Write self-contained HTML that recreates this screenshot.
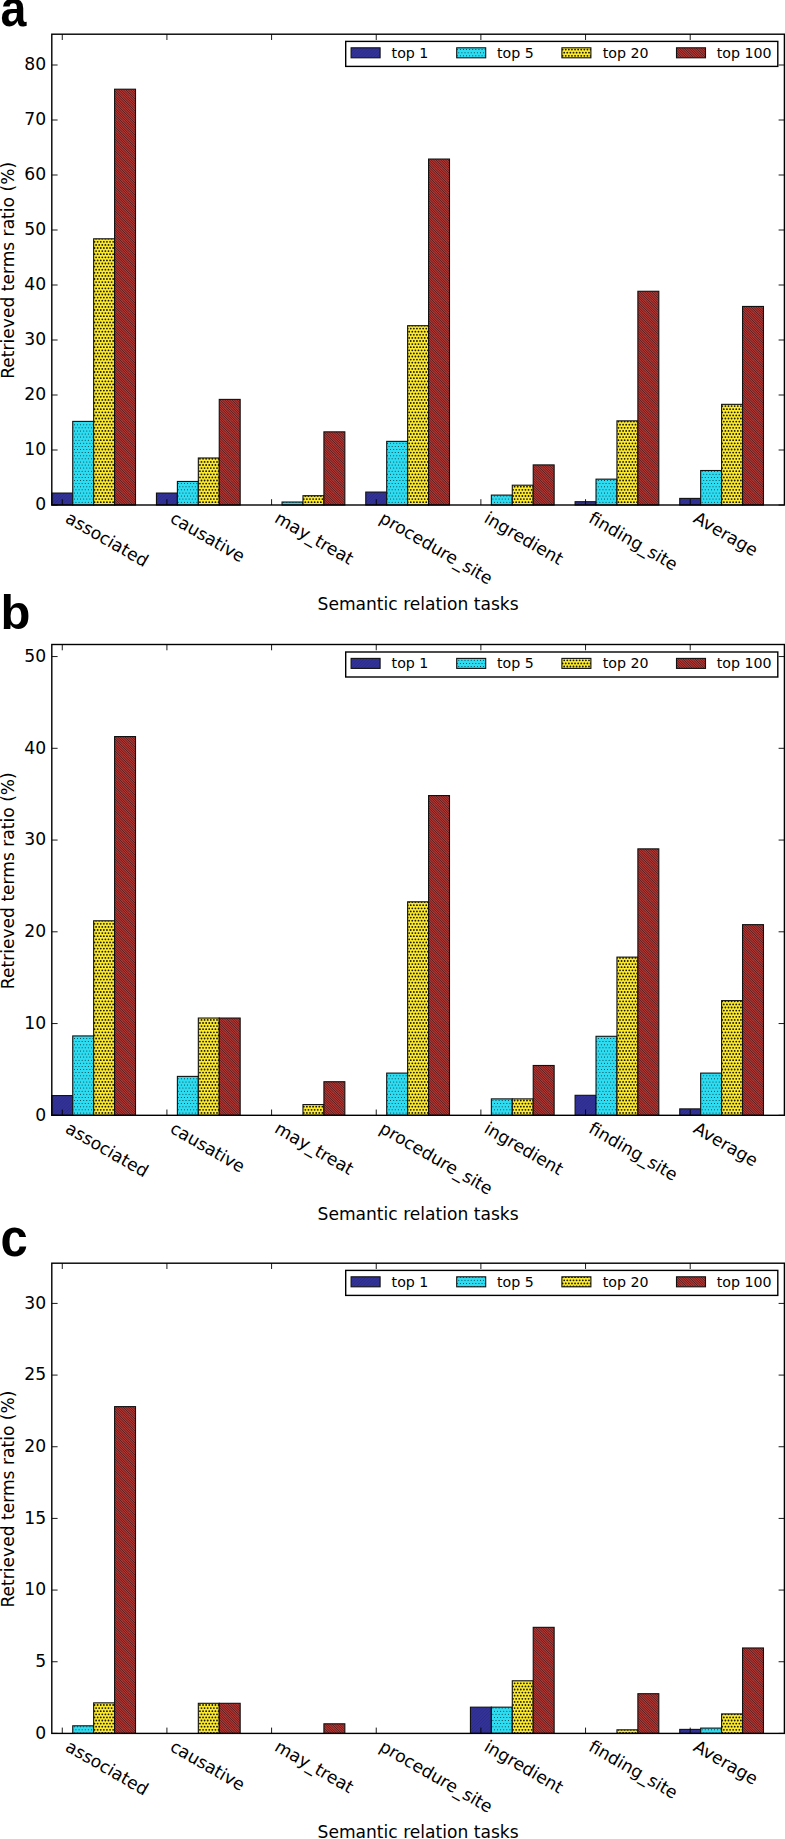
<!DOCTYPE html>
<html><head><meta charset="utf-8"><title>Semantic relation tasks</title>
<style>html,body{margin:0;padding:0;background:#fff}svg{display:block}text{font-family:"DejaVu Sans","Liberation Sans",sans-serif;fill:#000}.pl{font-family:"Liberation Sans",Arial,sans-serif;font-weight:bold;font-size:49px}</style></head><body>
<svg width="785" height="1839" viewBox="0 0 785 1839">
<defs>
<pattern id="h0" width="31.0" height="31.0" patternUnits="userSpaceOnUse"><rect width="31.0" height="31.0" fill="#323299"/><path d="M-34.10,31.0l31.0,-31.0M-31.00,31.0l31.0,-31.0M-27.90,31.0l31.0,-31.0M-24.80,31.0l31.0,-31.0M-21.70,31.0l31.0,-31.0M-18.60,31.0l31.0,-31.0M-15.50,31.0l31.0,-31.0M-12.40,31.0l31.0,-31.0M-9.30,31.0l31.0,-31.0M-6.20,31.0l31.0,-31.0M-3.10,31.0l31.0,-31.0M0.00,31.0l31.0,-31.0M3.10,31.0l31.0,-31.0M6.20,31.0l31.0,-31.0M9.30,31.0l31.0,-31.0M12.40,31.0l31.0,-31.0M15.50,31.0l31.0,-31.0M18.60,31.0l31.0,-31.0M21.70,31.0l31.0,-31.0M24.80,31.0l31.0,-31.0M27.90,31.0l31.0,-31.0M31.00,31.0l31.0,-31.0M34.10,31.0l31.0,-31.0" stroke="#2a2a84" stroke-width="0.9" fill="none"/></pattern>
<pattern id="h1" width="31.0" height="31.0" patternUnits="userSpaceOnUse"><rect width="31.0" height="31.0" fill="#2edcf2"/><path d="M-2.07,0.00a0.52,0.52 0 1,0 1.04,0a0.52,0.52 0 1,0 -1.04,0M1.03,0.00a0.52,0.52 0 1,0 1.04,0a0.52,0.52 0 1,0 -1.04,0M4.13,0.00a0.52,0.52 0 1,0 1.04,0a0.52,0.52 0 1,0 -1.04,0M7.23,0.00a0.52,0.52 0 1,0 1.04,0a0.52,0.52 0 1,0 -1.04,0M10.33,0.00a0.52,0.52 0 1,0 1.04,0a0.52,0.52 0 1,0 -1.04,0M13.43,0.00a0.52,0.52 0 1,0 1.04,0a0.52,0.52 0 1,0 -1.04,0M16.53,0.00a0.52,0.52 0 1,0 1.04,0a0.52,0.52 0 1,0 -1.04,0M19.63,0.00a0.52,0.52 0 1,0 1.04,0a0.52,0.52 0 1,0 -1.04,0M22.73,0.00a0.52,0.52 0 1,0 1.04,0a0.52,0.52 0 1,0 -1.04,0M25.83,0.00a0.52,0.52 0 1,0 1.04,0a0.52,0.52 0 1,0 -1.04,0M28.93,0.00a0.52,0.52 0 1,0 1.04,0a0.52,0.52 0 1,0 -1.04,0M32.03,0.00a0.52,0.52 0 1,0 1.04,0a0.52,0.52 0 1,0 -1.04,0M-0.52,3.10a0.52,0.52 0 1,0 1.04,0a0.52,0.52 0 1,0 -1.04,0M2.58,3.10a0.52,0.52 0 1,0 1.04,0a0.52,0.52 0 1,0 -1.04,0M5.68,3.10a0.52,0.52 0 1,0 1.04,0a0.52,0.52 0 1,0 -1.04,0M8.78,3.10a0.52,0.52 0 1,0 1.04,0a0.52,0.52 0 1,0 -1.04,0M11.88,3.10a0.52,0.52 0 1,0 1.04,0a0.52,0.52 0 1,0 -1.04,0M14.98,3.10a0.52,0.52 0 1,0 1.04,0a0.52,0.52 0 1,0 -1.04,0M18.08,3.10a0.52,0.52 0 1,0 1.04,0a0.52,0.52 0 1,0 -1.04,0M21.18,3.10a0.52,0.52 0 1,0 1.04,0a0.52,0.52 0 1,0 -1.04,0M24.28,3.10a0.52,0.52 0 1,0 1.04,0a0.52,0.52 0 1,0 -1.04,0M27.38,3.10a0.52,0.52 0 1,0 1.04,0a0.52,0.52 0 1,0 -1.04,0M30.48,3.10a0.52,0.52 0 1,0 1.04,0a0.52,0.52 0 1,0 -1.04,0M-2.07,6.20a0.52,0.52 0 1,0 1.04,0a0.52,0.52 0 1,0 -1.04,0M1.03,6.20a0.52,0.52 0 1,0 1.04,0a0.52,0.52 0 1,0 -1.04,0M4.13,6.20a0.52,0.52 0 1,0 1.04,0a0.52,0.52 0 1,0 -1.04,0M7.23,6.20a0.52,0.52 0 1,0 1.04,0a0.52,0.52 0 1,0 -1.04,0M10.33,6.20a0.52,0.52 0 1,0 1.04,0a0.52,0.52 0 1,0 -1.04,0M13.43,6.20a0.52,0.52 0 1,0 1.04,0a0.52,0.52 0 1,0 -1.04,0M16.53,6.20a0.52,0.52 0 1,0 1.04,0a0.52,0.52 0 1,0 -1.04,0M19.63,6.20a0.52,0.52 0 1,0 1.04,0a0.52,0.52 0 1,0 -1.04,0M22.73,6.20a0.52,0.52 0 1,0 1.04,0a0.52,0.52 0 1,0 -1.04,0M25.83,6.20a0.52,0.52 0 1,0 1.04,0a0.52,0.52 0 1,0 -1.04,0M28.93,6.20a0.52,0.52 0 1,0 1.04,0a0.52,0.52 0 1,0 -1.04,0M32.03,6.20a0.52,0.52 0 1,0 1.04,0a0.52,0.52 0 1,0 -1.04,0M-0.52,9.30a0.52,0.52 0 1,0 1.04,0a0.52,0.52 0 1,0 -1.04,0M2.58,9.30a0.52,0.52 0 1,0 1.04,0a0.52,0.52 0 1,0 -1.04,0M5.68,9.30a0.52,0.52 0 1,0 1.04,0a0.52,0.52 0 1,0 -1.04,0M8.78,9.30a0.52,0.52 0 1,0 1.04,0a0.52,0.52 0 1,0 -1.04,0M11.88,9.30a0.52,0.52 0 1,0 1.04,0a0.52,0.52 0 1,0 -1.04,0M14.98,9.30a0.52,0.52 0 1,0 1.04,0a0.52,0.52 0 1,0 -1.04,0M18.08,9.30a0.52,0.52 0 1,0 1.04,0a0.52,0.52 0 1,0 -1.04,0M21.18,9.30a0.52,0.52 0 1,0 1.04,0a0.52,0.52 0 1,0 -1.04,0M24.28,9.30a0.52,0.52 0 1,0 1.04,0a0.52,0.52 0 1,0 -1.04,0M27.38,9.30a0.52,0.52 0 1,0 1.04,0a0.52,0.52 0 1,0 -1.04,0M30.48,9.30a0.52,0.52 0 1,0 1.04,0a0.52,0.52 0 1,0 -1.04,0M-2.07,12.40a0.52,0.52 0 1,0 1.04,0a0.52,0.52 0 1,0 -1.04,0M1.03,12.40a0.52,0.52 0 1,0 1.04,0a0.52,0.52 0 1,0 -1.04,0M4.13,12.40a0.52,0.52 0 1,0 1.04,0a0.52,0.52 0 1,0 -1.04,0M7.23,12.40a0.52,0.52 0 1,0 1.04,0a0.52,0.52 0 1,0 -1.04,0M10.33,12.40a0.52,0.52 0 1,0 1.04,0a0.52,0.52 0 1,0 -1.04,0M13.43,12.40a0.52,0.52 0 1,0 1.04,0a0.52,0.52 0 1,0 -1.04,0M16.53,12.40a0.52,0.52 0 1,0 1.04,0a0.52,0.52 0 1,0 -1.04,0M19.63,12.40a0.52,0.52 0 1,0 1.04,0a0.52,0.52 0 1,0 -1.04,0M22.73,12.40a0.52,0.52 0 1,0 1.04,0a0.52,0.52 0 1,0 -1.04,0M25.83,12.40a0.52,0.52 0 1,0 1.04,0a0.52,0.52 0 1,0 -1.04,0M28.93,12.40a0.52,0.52 0 1,0 1.04,0a0.52,0.52 0 1,0 -1.04,0M32.03,12.40a0.52,0.52 0 1,0 1.04,0a0.52,0.52 0 1,0 -1.04,0M-0.52,15.50a0.52,0.52 0 1,0 1.04,0a0.52,0.52 0 1,0 -1.04,0M2.58,15.50a0.52,0.52 0 1,0 1.04,0a0.52,0.52 0 1,0 -1.04,0M5.68,15.50a0.52,0.52 0 1,0 1.04,0a0.52,0.52 0 1,0 -1.04,0M8.78,15.50a0.52,0.52 0 1,0 1.04,0a0.52,0.52 0 1,0 -1.04,0M11.88,15.50a0.52,0.52 0 1,0 1.04,0a0.52,0.52 0 1,0 -1.04,0M14.98,15.50a0.52,0.52 0 1,0 1.04,0a0.52,0.52 0 1,0 -1.04,0M18.08,15.50a0.52,0.52 0 1,0 1.04,0a0.52,0.52 0 1,0 -1.04,0M21.18,15.50a0.52,0.52 0 1,0 1.04,0a0.52,0.52 0 1,0 -1.04,0M24.28,15.50a0.52,0.52 0 1,0 1.04,0a0.52,0.52 0 1,0 -1.04,0M27.38,15.50a0.52,0.52 0 1,0 1.04,0a0.52,0.52 0 1,0 -1.04,0M30.48,15.50a0.52,0.52 0 1,0 1.04,0a0.52,0.52 0 1,0 -1.04,0M-2.07,18.60a0.52,0.52 0 1,0 1.04,0a0.52,0.52 0 1,0 -1.04,0M1.03,18.60a0.52,0.52 0 1,0 1.04,0a0.52,0.52 0 1,0 -1.04,0M4.13,18.60a0.52,0.52 0 1,0 1.04,0a0.52,0.52 0 1,0 -1.04,0M7.23,18.60a0.52,0.52 0 1,0 1.04,0a0.52,0.52 0 1,0 -1.04,0M10.33,18.60a0.52,0.52 0 1,0 1.04,0a0.52,0.52 0 1,0 -1.04,0M13.43,18.60a0.52,0.52 0 1,0 1.04,0a0.52,0.52 0 1,0 -1.04,0M16.53,18.60a0.52,0.52 0 1,0 1.04,0a0.52,0.52 0 1,0 -1.04,0M19.63,18.60a0.52,0.52 0 1,0 1.04,0a0.52,0.52 0 1,0 -1.04,0M22.73,18.60a0.52,0.52 0 1,0 1.04,0a0.52,0.52 0 1,0 -1.04,0M25.83,18.60a0.52,0.52 0 1,0 1.04,0a0.52,0.52 0 1,0 -1.04,0M28.93,18.60a0.52,0.52 0 1,0 1.04,0a0.52,0.52 0 1,0 -1.04,0M32.03,18.60a0.52,0.52 0 1,0 1.04,0a0.52,0.52 0 1,0 -1.04,0M-0.52,21.70a0.52,0.52 0 1,0 1.04,0a0.52,0.52 0 1,0 -1.04,0M2.58,21.70a0.52,0.52 0 1,0 1.04,0a0.52,0.52 0 1,0 -1.04,0M5.68,21.70a0.52,0.52 0 1,0 1.04,0a0.52,0.52 0 1,0 -1.04,0M8.78,21.70a0.52,0.52 0 1,0 1.04,0a0.52,0.52 0 1,0 -1.04,0M11.88,21.70a0.52,0.52 0 1,0 1.04,0a0.52,0.52 0 1,0 -1.04,0M14.98,21.70a0.52,0.52 0 1,0 1.04,0a0.52,0.52 0 1,0 -1.04,0M18.08,21.70a0.52,0.52 0 1,0 1.04,0a0.52,0.52 0 1,0 -1.04,0M21.18,21.70a0.52,0.52 0 1,0 1.04,0a0.52,0.52 0 1,0 -1.04,0M24.28,21.70a0.52,0.52 0 1,0 1.04,0a0.52,0.52 0 1,0 -1.04,0M27.38,21.70a0.52,0.52 0 1,0 1.04,0a0.52,0.52 0 1,0 -1.04,0M30.48,21.70a0.52,0.52 0 1,0 1.04,0a0.52,0.52 0 1,0 -1.04,0M-2.07,24.80a0.52,0.52 0 1,0 1.04,0a0.52,0.52 0 1,0 -1.04,0M1.03,24.80a0.52,0.52 0 1,0 1.04,0a0.52,0.52 0 1,0 -1.04,0M4.13,24.80a0.52,0.52 0 1,0 1.04,0a0.52,0.52 0 1,0 -1.04,0M7.23,24.80a0.52,0.52 0 1,0 1.04,0a0.52,0.52 0 1,0 -1.04,0M10.33,24.80a0.52,0.52 0 1,0 1.04,0a0.52,0.52 0 1,0 -1.04,0M13.43,24.80a0.52,0.52 0 1,0 1.04,0a0.52,0.52 0 1,0 -1.04,0M16.53,24.80a0.52,0.52 0 1,0 1.04,0a0.52,0.52 0 1,0 -1.04,0M19.63,24.80a0.52,0.52 0 1,0 1.04,0a0.52,0.52 0 1,0 -1.04,0M22.73,24.80a0.52,0.52 0 1,0 1.04,0a0.52,0.52 0 1,0 -1.04,0M25.83,24.80a0.52,0.52 0 1,0 1.04,0a0.52,0.52 0 1,0 -1.04,0M28.93,24.80a0.52,0.52 0 1,0 1.04,0a0.52,0.52 0 1,0 -1.04,0M32.03,24.80a0.52,0.52 0 1,0 1.04,0a0.52,0.52 0 1,0 -1.04,0M-0.52,27.90a0.52,0.52 0 1,0 1.04,0a0.52,0.52 0 1,0 -1.04,0M2.58,27.90a0.52,0.52 0 1,0 1.04,0a0.52,0.52 0 1,0 -1.04,0M5.68,27.90a0.52,0.52 0 1,0 1.04,0a0.52,0.52 0 1,0 -1.04,0M8.78,27.90a0.52,0.52 0 1,0 1.04,0a0.52,0.52 0 1,0 -1.04,0M11.88,27.90a0.52,0.52 0 1,0 1.04,0a0.52,0.52 0 1,0 -1.04,0M14.98,27.90a0.52,0.52 0 1,0 1.04,0a0.52,0.52 0 1,0 -1.04,0M18.08,27.90a0.52,0.52 0 1,0 1.04,0a0.52,0.52 0 1,0 -1.04,0M21.18,27.90a0.52,0.52 0 1,0 1.04,0a0.52,0.52 0 1,0 -1.04,0M24.28,27.90a0.52,0.52 0 1,0 1.04,0a0.52,0.52 0 1,0 -1.04,0M27.38,27.90a0.52,0.52 0 1,0 1.04,0a0.52,0.52 0 1,0 -1.04,0M30.48,27.90a0.52,0.52 0 1,0 1.04,0a0.52,0.52 0 1,0 -1.04,0M-2.07,31.00a0.52,0.52 0 1,0 1.04,0a0.52,0.52 0 1,0 -1.04,0M1.03,31.00a0.52,0.52 0 1,0 1.04,0a0.52,0.52 0 1,0 -1.04,0M4.13,31.00a0.52,0.52 0 1,0 1.04,0a0.52,0.52 0 1,0 -1.04,0M7.23,31.00a0.52,0.52 0 1,0 1.04,0a0.52,0.52 0 1,0 -1.04,0M10.33,31.00a0.52,0.52 0 1,0 1.04,0a0.52,0.52 0 1,0 -1.04,0M13.43,31.00a0.52,0.52 0 1,0 1.04,0a0.52,0.52 0 1,0 -1.04,0M16.53,31.00a0.52,0.52 0 1,0 1.04,0a0.52,0.52 0 1,0 -1.04,0M19.63,31.00a0.52,0.52 0 1,0 1.04,0a0.52,0.52 0 1,0 -1.04,0M22.73,31.00a0.52,0.52 0 1,0 1.04,0a0.52,0.52 0 1,0 -1.04,0M25.83,31.00a0.52,0.52 0 1,0 1.04,0a0.52,0.52 0 1,0 -1.04,0M28.93,31.00a0.52,0.52 0 1,0 1.04,0a0.52,0.52 0 1,0 -1.04,0M32.03,31.00a0.52,0.52 0 1,0 1.04,0a0.52,0.52 0 1,0 -1.04,0" fill="#000" fill-opacity="0.85"/></pattern>
<pattern id="h2" width="31.0" height="31.0" patternUnits="userSpaceOnUse"><rect width="31.0" height="31.0" fill="#fae92e"/><path d="M-2.47,0.00a0.92,0.92 0 1,0 1.84,0a0.92,0.92 0 1,0 -1.84,0M0.63,0.00a0.92,0.92 0 1,0 1.84,0a0.92,0.92 0 1,0 -1.84,0M3.73,0.00a0.92,0.92 0 1,0 1.84,0a0.92,0.92 0 1,0 -1.84,0M6.83,0.00a0.92,0.92 0 1,0 1.84,0a0.92,0.92 0 1,0 -1.84,0M9.93,0.00a0.92,0.92 0 1,0 1.84,0a0.92,0.92 0 1,0 -1.84,0M13.03,0.00a0.92,0.92 0 1,0 1.84,0a0.92,0.92 0 1,0 -1.84,0M16.13,0.00a0.92,0.92 0 1,0 1.84,0a0.92,0.92 0 1,0 -1.84,0M19.23,0.00a0.92,0.92 0 1,0 1.84,0a0.92,0.92 0 1,0 -1.84,0M22.33,0.00a0.92,0.92 0 1,0 1.84,0a0.92,0.92 0 1,0 -1.84,0M25.43,0.00a0.92,0.92 0 1,0 1.84,0a0.92,0.92 0 1,0 -1.84,0M28.53,0.00a0.92,0.92 0 1,0 1.84,0a0.92,0.92 0 1,0 -1.84,0M31.63,0.00a0.92,0.92 0 1,0 1.84,0a0.92,0.92 0 1,0 -1.84,0M-0.92,3.10a0.92,0.92 0 1,0 1.84,0a0.92,0.92 0 1,0 -1.84,0M2.18,3.10a0.92,0.92 0 1,0 1.84,0a0.92,0.92 0 1,0 -1.84,0M5.28,3.10a0.92,0.92 0 1,0 1.84,0a0.92,0.92 0 1,0 -1.84,0M8.38,3.10a0.92,0.92 0 1,0 1.84,0a0.92,0.92 0 1,0 -1.84,0M11.48,3.10a0.92,0.92 0 1,0 1.84,0a0.92,0.92 0 1,0 -1.84,0M14.58,3.10a0.92,0.92 0 1,0 1.84,0a0.92,0.92 0 1,0 -1.84,0M17.68,3.10a0.92,0.92 0 1,0 1.84,0a0.92,0.92 0 1,0 -1.84,0M20.78,3.10a0.92,0.92 0 1,0 1.84,0a0.92,0.92 0 1,0 -1.84,0M23.88,3.10a0.92,0.92 0 1,0 1.84,0a0.92,0.92 0 1,0 -1.84,0M26.98,3.10a0.92,0.92 0 1,0 1.84,0a0.92,0.92 0 1,0 -1.84,0M30.08,3.10a0.92,0.92 0 1,0 1.84,0a0.92,0.92 0 1,0 -1.84,0M-2.47,6.20a0.92,0.92 0 1,0 1.84,0a0.92,0.92 0 1,0 -1.84,0M0.63,6.20a0.92,0.92 0 1,0 1.84,0a0.92,0.92 0 1,0 -1.84,0M3.73,6.20a0.92,0.92 0 1,0 1.84,0a0.92,0.92 0 1,0 -1.84,0M6.83,6.20a0.92,0.92 0 1,0 1.84,0a0.92,0.92 0 1,0 -1.84,0M9.93,6.20a0.92,0.92 0 1,0 1.84,0a0.92,0.92 0 1,0 -1.84,0M13.03,6.20a0.92,0.92 0 1,0 1.84,0a0.92,0.92 0 1,0 -1.84,0M16.13,6.20a0.92,0.92 0 1,0 1.84,0a0.92,0.92 0 1,0 -1.84,0M19.23,6.20a0.92,0.92 0 1,0 1.84,0a0.92,0.92 0 1,0 -1.84,0M22.33,6.20a0.92,0.92 0 1,0 1.84,0a0.92,0.92 0 1,0 -1.84,0M25.43,6.20a0.92,0.92 0 1,0 1.84,0a0.92,0.92 0 1,0 -1.84,0M28.53,6.20a0.92,0.92 0 1,0 1.84,0a0.92,0.92 0 1,0 -1.84,0M31.63,6.20a0.92,0.92 0 1,0 1.84,0a0.92,0.92 0 1,0 -1.84,0M-0.92,9.30a0.92,0.92 0 1,0 1.84,0a0.92,0.92 0 1,0 -1.84,0M2.18,9.30a0.92,0.92 0 1,0 1.84,0a0.92,0.92 0 1,0 -1.84,0M5.28,9.30a0.92,0.92 0 1,0 1.84,0a0.92,0.92 0 1,0 -1.84,0M8.38,9.30a0.92,0.92 0 1,0 1.84,0a0.92,0.92 0 1,0 -1.84,0M11.48,9.30a0.92,0.92 0 1,0 1.84,0a0.92,0.92 0 1,0 -1.84,0M14.58,9.30a0.92,0.92 0 1,0 1.84,0a0.92,0.92 0 1,0 -1.84,0M17.68,9.30a0.92,0.92 0 1,0 1.84,0a0.92,0.92 0 1,0 -1.84,0M20.78,9.30a0.92,0.92 0 1,0 1.84,0a0.92,0.92 0 1,0 -1.84,0M23.88,9.30a0.92,0.92 0 1,0 1.84,0a0.92,0.92 0 1,0 -1.84,0M26.98,9.30a0.92,0.92 0 1,0 1.84,0a0.92,0.92 0 1,0 -1.84,0M30.08,9.30a0.92,0.92 0 1,0 1.84,0a0.92,0.92 0 1,0 -1.84,0M-2.47,12.40a0.92,0.92 0 1,0 1.84,0a0.92,0.92 0 1,0 -1.84,0M0.63,12.40a0.92,0.92 0 1,0 1.84,0a0.92,0.92 0 1,0 -1.84,0M3.73,12.40a0.92,0.92 0 1,0 1.84,0a0.92,0.92 0 1,0 -1.84,0M6.83,12.40a0.92,0.92 0 1,0 1.84,0a0.92,0.92 0 1,0 -1.84,0M9.93,12.40a0.92,0.92 0 1,0 1.84,0a0.92,0.92 0 1,0 -1.84,0M13.03,12.40a0.92,0.92 0 1,0 1.84,0a0.92,0.92 0 1,0 -1.84,0M16.13,12.40a0.92,0.92 0 1,0 1.84,0a0.92,0.92 0 1,0 -1.84,0M19.23,12.40a0.92,0.92 0 1,0 1.84,0a0.92,0.92 0 1,0 -1.84,0M22.33,12.40a0.92,0.92 0 1,0 1.84,0a0.92,0.92 0 1,0 -1.84,0M25.43,12.40a0.92,0.92 0 1,0 1.84,0a0.92,0.92 0 1,0 -1.84,0M28.53,12.40a0.92,0.92 0 1,0 1.84,0a0.92,0.92 0 1,0 -1.84,0M31.63,12.40a0.92,0.92 0 1,0 1.84,0a0.92,0.92 0 1,0 -1.84,0M-0.92,15.50a0.92,0.92 0 1,0 1.84,0a0.92,0.92 0 1,0 -1.84,0M2.18,15.50a0.92,0.92 0 1,0 1.84,0a0.92,0.92 0 1,0 -1.84,0M5.28,15.50a0.92,0.92 0 1,0 1.84,0a0.92,0.92 0 1,0 -1.84,0M8.38,15.50a0.92,0.92 0 1,0 1.84,0a0.92,0.92 0 1,0 -1.84,0M11.48,15.50a0.92,0.92 0 1,0 1.84,0a0.92,0.92 0 1,0 -1.84,0M14.58,15.50a0.92,0.92 0 1,0 1.84,0a0.92,0.92 0 1,0 -1.84,0M17.68,15.50a0.92,0.92 0 1,0 1.84,0a0.92,0.92 0 1,0 -1.84,0M20.78,15.50a0.92,0.92 0 1,0 1.84,0a0.92,0.92 0 1,0 -1.84,0M23.88,15.50a0.92,0.92 0 1,0 1.84,0a0.92,0.92 0 1,0 -1.84,0M26.98,15.50a0.92,0.92 0 1,0 1.84,0a0.92,0.92 0 1,0 -1.84,0M30.08,15.50a0.92,0.92 0 1,0 1.84,0a0.92,0.92 0 1,0 -1.84,0M-2.47,18.60a0.92,0.92 0 1,0 1.84,0a0.92,0.92 0 1,0 -1.84,0M0.63,18.60a0.92,0.92 0 1,0 1.84,0a0.92,0.92 0 1,0 -1.84,0M3.73,18.60a0.92,0.92 0 1,0 1.84,0a0.92,0.92 0 1,0 -1.84,0M6.83,18.60a0.92,0.92 0 1,0 1.84,0a0.92,0.92 0 1,0 -1.84,0M9.93,18.60a0.92,0.92 0 1,0 1.84,0a0.92,0.92 0 1,0 -1.84,0M13.03,18.60a0.92,0.92 0 1,0 1.84,0a0.92,0.92 0 1,0 -1.84,0M16.13,18.60a0.92,0.92 0 1,0 1.84,0a0.92,0.92 0 1,0 -1.84,0M19.23,18.60a0.92,0.92 0 1,0 1.84,0a0.92,0.92 0 1,0 -1.84,0M22.33,18.60a0.92,0.92 0 1,0 1.84,0a0.92,0.92 0 1,0 -1.84,0M25.43,18.60a0.92,0.92 0 1,0 1.84,0a0.92,0.92 0 1,0 -1.84,0M28.53,18.60a0.92,0.92 0 1,0 1.84,0a0.92,0.92 0 1,0 -1.84,0M31.63,18.60a0.92,0.92 0 1,0 1.84,0a0.92,0.92 0 1,0 -1.84,0M-0.92,21.70a0.92,0.92 0 1,0 1.84,0a0.92,0.92 0 1,0 -1.84,0M2.18,21.70a0.92,0.92 0 1,0 1.84,0a0.92,0.92 0 1,0 -1.84,0M5.28,21.70a0.92,0.92 0 1,0 1.84,0a0.92,0.92 0 1,0 -1.84,0M8.38,21.70a0.92,0.92 0 1,0 1.84,0a0.92,0.92 0 1,0 -1.84,0M11.48,21.70a0.92,0.92 0 1,0 1.84,0a0.92,0.92 0 1,0 -1.84,0M14.58,21.70a0.92,0.92 0 1,0 1.84,0a0.92,0.92 0 1,0 -1.84,0M17.68,21.70a0.92,0.92 0 1,0 1.84,0a0.92,0.92 0 1,0 -1.84,0M20.78,21.70a0.92,0.92 0 1,0 1.84,0a0.92,0.92 0 1,0 -1.84,0M23.88,21.70a0.92,0.92 0 1,0 1.84,0a0.92,0.92 0 1,0 -1.84,0M26.98,21.70a0.92,0.92 0 1,0 1.84,0a0.92,0.92 0 1,0 -1.84,0M30.08,21.70a0.92,0.92 0 1,0 1.84,0a0.92,0.92 0 1,0 -1.84,0M-2.47,24.80a0.92,0.92 0 1,0 1.84,0a0.92,0.92 0 1,0 -1.84,0M0.63,24.80a0.92,0.92 0 1,0 1.84,0a0.92,0.92 0 1,0 -1.84,0M3.73,24.80a0.92,0.92 0 1,0 1.84,0a0.92,0.92 0 1,0 -1.84,0M6.83,24.80a0.92,0.92 0 1,0 1.84,0a0.92,0.92 0 1,0 -1.84,0M9.93,24.80a0.92,0.92 0 1,0 1.84,0a0.92,0.92 0 1,0 -1.84,0M13.03,24.80a0.92,0.92 0 1,0 1.84,0a0.92,0.92 0 1,0 -1.84,0M16.13,24.80a0.92,0.92 0 1,0 1.84,0a0.92,0.92 0 1,0 -1.84,0M19.23,24.80a0.92,0.92 0 1,0 1.84,0a0.92,0.92 0 1,0 -1.84,0M22.33,24.80a0.92,0.92 0 1,0 1.84,0a0.92,0.92 0 1,0 -1.84,0M25.43,24.80a0.92,0.92 0 1,0 1.84,0a0.92,0.92 0 1,0 -1.84,0M28.53,24.80a0.92,0.92 0 1,0 1.84,0a0.92,0.92 0 1,0 -1.84,0M31.63,24.80a0.92,0.92 0 1,0 1.84,0a0.92,0.92 0 1,0 -1.84,0M-0.92,27.90a0.92,0.92 0 1,0 1.84,0a0.92,0.92 0 1,0 -1.84,0M2.18,27.90a0.92,0.92 0 1,0 1.84,0a0.92,0.92 0 1,0 -1.84,0M5.28,27.90a0.92,0.92 0 1,0 1.84,0a0.92,0.92 0 1,0 -1.84,0M8.38,27.90a0.92,0.92 0 1,0 1.84,0a0.92,0.92 0 1,0 -1.84,0M11.48,27.90a0.92,0.92 0 1,0 1.84,0a0.92,0.92 0 1,0 -1.84,0M14.58,27.90a0.92,0.92 0 1,0 1.84,0a0.92,0.92 0 1,0 -1.84,0M17.68,27.90a0.92,0.92 0 1,0 1.84,0a0.92,0.92 0 1,0 -1.84,0M20.78,27.90a0.92,0.92 0 1,0 1.84,0a0.92,0.92 0 1,0 -1.84,0M23.88,27.90a0.92,0.92 0 1,0 1.84,0a0.92,0.92 0 1,0 -1.84,0M26.98,27.90a0.92,0.92 0 1,0 1.84,0a0.92,0.92 0 1,0 -1.84,0M30.08,27.90a0.92,0.92 0 1,0 1.84,0a0.92,0.92 0 1,0 -1.84,0M-2.47,31.00a0.92,0.92 0 1,0 1.84,0a0.92,0.92 0 1,0 -1.84,0M0.63,31.00a0.92,0.92 0 1,0 1.84,0a0.92,0.92 0 1,0 -1.84,0M3.73,31.00a0.92,0.92 0 1,0 1.84,0a0.92,0.92 0 1,0 -1.84,0M6.83,31.00a0.92,0.92 0 1,0 1.84,0a0.92,0.92 0 1,0 -1.84,0M9.93,31.00a0.92,0.92 0 1,0 1.84,0a0.92,0.92 0 1,0 -1.84,0M13.03,31.00a0.92,0.92 0 1,0 1.84,0a0.92,0.92 0 1,0 -1.84,0M16.13,31.00a0.92,0.92 0 1,0 1.84,0a0.92,0.92 0 1,0 -1.84,0M19.23,31.00a0.92,0.92 0 1,0 1.84,0a0.92,0.92 0 1,0 -1.84,0M22.33,31.00a0.92,0.92 0 1,0 1.84,0a0.92,0.92 0 1,0 -1.84,0M25.43,31.00a0.92,0.92 0 1,0 1.84,0a0.92,0.92 0 1,0 -1.84,0M28.53,31.00a0.92,0.92 0 1,0 1.84,0a0.92,0.92 0 1,0 -1.84,0M31.63,31.00a0.92,0.92 0 1,0 1.84,0a0.92,0.92 0 1,0 -1.84,0" fill="#000" fill-opacity="0.9"/></pattern>
<pattern id="h3" width="12.0" height="12.0" patternUnits="userSpaceOnUse"><rect width="12.0" height="12.0" fill="#b23834"/><path d="M-14.40,0l12.0,12.0M-12.00,0l12.0,12.0M-9.60,0l12.0,12.0M-7.20,0l12.0,12.0M-4.80,0l12.0,12.0M-2.40,0l12.0,12.0M0.00,0l12.0,12.0M2.40,0l12.0,12.0M4.80,0l12.0,12.0M7.20,0l12.0,12.0M9.60,0l12.0,12.0M12.00,0l12.0,12.0M14.40,0l12.0,12.0" stroke="#641c1c" stroke-width="1.0" fill="none"/></pattern>
</defs>
<rect width="785" height="1839" fill="#fff"/>
<g>
<text class="pl" transform="translate(0.5,26) scale(0.95,1.045)">a</text>
<rect x="51.80" y="493.06" width="20.93" height="11.93" fill="url(#h0)" stroke="#111" stroke-width="1.1"/>
<rect x="72.73" y="421.40" width="20.93" height="83.60" fill="url(#h1)" stroke="#111" stroke-width="1.1"/>
<rect x="93.66" y="238.80" width="20.93" height="266.20" fill="url(#h2)" stroke="#111" stroke-width="1.1"/>
<rect x="114.59" y="89.20" width="20.93" height="415.80" fill="url(#h3)" stroke="#111" stroke-width="1.1"/>
<rect x="156.46" y="493.06" width="20.93" height="11.93" fill="url(#h0)" stroke="#111" stroke-width="1.1"/>
<rect x="177.39" y="481.46" width="20.93" height="23.54" fill="url(#h1)" stroke="#111" stroke-width="1.1"/>
<rect x="198.32" y="457.98" width="20.93" height="47.03" fill="url(#h2)" stroke="#111" stroke-width="1.1"/>
<rect x="219.25" y="399.40" width="20.93" height="105.60" fill="url(#h3)" stroke="#111" stroke-width="1.1"/>
<rect x="282.05" y="502.03" width="20.93" height="2.97" fill="url(#h1)" stroke="#111" stroke-width="1.1"/>
<rect x="302.98" y="495.70" width="20.93" height="9.29" fill="url(#h2)" stroke="#111" stroke-width="1.1"/>
<rect x="323.91" y="431.85" width="20.93" height="73.15" fill="url(#h3)" stroke="#111" stroke-width="1.1"/>
<rect x="365.77" y="492.07" width="20.93" height="12.93" fill="url(#h0)" stroke="#111" stroke-width="1.1"/>
<rect x="386.70" y="441.37" width="20.93" height="63.64" fill="url(#h1)" stroke="#111" stroke-width="1.1"/>
<rect x="407.63" y="325.70" width="20.93" height="179.30" fill="url(#h2)" stroke="#111" stroke-width="1.1"/>
<rect x="428.57" y="159.05" width="20.93" height="345.95" fill="url(#h3)" stroke="#111" stroke-width="1.1"/>
<rect x="491.36" y="495.10" width="20.93" height="9.90" fill="url(#h1)" stroke="#111" stroke-width="1.1"/>
<rect x="512.29" y="485.20" width="20.93" height="19.80" fill="url(#h2)" stroke="#111" stroke-width="1.1"/>
<rect x="533.22" y="464.90" width="20.93" height="40.09" fill="url(#h3)" stroke="#111" stroke-width="1.1"/>
<rect x="575.09" y="501.70" width="20.93" height="3.30" fill="url(#h0)" stroke="#111" stroke-width="1.1"/>
<rect x="596.02" y="479.15" width="20.93" height="25.85" fill="url(#h1)" stroke="#111" stroke-width="1.1"/>
<rect x="616.95" y="420.85" width="20.93" height="84.15" fill="url(#h2)" stroke="#111" stroke-width="1.1"/>
<rect x="637.88" y="291.27" width="20.93" height="213.73" fill="url(#h3)" stroke="#111" stroke-width="1.1"/>
<rect x="679.74" y="498.40" width="20.93" height="6.60" fill="url(#h0)" stroke="#111" stroke-width="1.1"/>
<rect x="700.67" y="470.51" width="20.93" height="34.48" fill="url(#h1)" stroke="#111" stroke-width="1.1"/>
<rect x="721.61" y="404.35" width="20.93" height="100.65" fill="url(#h2)" stroke="#111" stroke-width="1.1"/>
<rect x="742.54" y="306.45" width="20.93" height="198.55" fill="url(#h3)" stroke="#111" stroke-width="1.1"/>
<path d="M51.8,505.00h5.8M784.4,505.00h-5.8M51.8,450.00h5.8M784.4,450.00h-5.8M51.8,395.00h5.8M784.4,395.00h-5.8M51.8,340.00h5.8M784.4,340.00h-5.8M51.8,285.00h5.8M784.4,285.00h-5.8M51.8,230.00h5.8M784.4,230.00h-5.8M51.8,175.00h5.8M784.4,175.00h-5.8M51.8,120.00h5.8M784.4,120.00h-5.8M51.8,65.00h5.8M784.4,65.00h-5.8M62.27,505.0v-5.8M62.27,34.2v5.8M166.92,505.0v-5.8M166.92,34.2v5.8M271.58,505.0v-5.8M271.58,34.2v5.8M376.24,505.0v-5.8M376.24,34.2v5.8M480.89,505.0v-5.8M480.89,34.2v5.8M585.55,505.0v-5.8M585.55,34.2v5.8M690.21,505.0v-5.8M690.21,34.2v5.8" stroke="#000" stroke-width="0.9" fill="none"/>
<rect x="51.8" y="34.2" width="732.60" height="470.80" fill="none" stroke="#000" stroke-width="1.4"/>
<text x="46.20" y="510.30" font-size="17.2" text-anchor="end">0</text>
<text x="46.20" y="455.30" font-size="17.2" text-anchor="end">10</text>
<text x="46.20" y="400.30" font-size="17.2" text-anchor="end">20</text>
<text x="46.20" y="345.30" font-size="17.2" text-anchor="end">30</text>
<text x="46.20" y="290.30" font-size="17.2" text-anchor="end">40</text>
<text x="46.20" y="235.30" font-size="17.2" text-anchor="end">50</text>
<text x="46.20" y="180.30" font-size="17.2" text-anchor="end">60</text>
<text x="46.20" y="125.30" font-size="17.2" text-anchor="end">70</text>
<text x="46.20" y="70.30" font-size="17.2" text-anchor="end">80</text>
<text transform="translate(64.27,521.50) rotate(30)" font-size="17.2">associated</text>
<text transform="translate(168.92,521.50) rotate(30)" font-size="17.2">causative</text>
<text transform="translate(273.58,521.50) rotate(30)" font-size="17.2">may_treat</text>
<text transform="translate(378.24,521.50) rotate(30)" font-size="17.2">procedure_site</text>
<text transform="translate(482.89,521.50) rotate(30)" font-size="17.2">ingredient</text>
<text transform="translate(587.55,521.50) rotate(30)" font-size="17.2">finding_site</text>
<text transform="translate(692.21,521.50) rotate(30)" font-size="17.2">Average</text>
<text x="418.10" y="609.50" font-size="17.1" text-anchor="middle">Semantic relation tasks</text>
<text transform="translate(13.8,270.40) rotate(-90)" font-size="17.1" text-anchor="middle">Retrieved terms ratio (%)</text>
<rect x="345.7" y="41.40" width="432.10" height="25.00" fill="#fff" stroke="#000" stroke-width="1.4"/>
<rect x="351.1" y="47.80" width="29.0" height="10.0" fill="url(#h0)" stroke="#111" stroke-width="1.1"/>
<text x="391.6" y="57.70" font-size="14.2">top 1</text>
<rect x="456.7" y="47.80" width="29.0" height="10.0" fill="url(#h1)" stroke="#111" stroke-width="1.1"/>
<text x="496.9" y="57.70" font-size="14.2">top 5</text>
<rect x="561.9" y="47.80" width="29.0" height="10.0" fill="url(#h2)" stroke="#111" stroke-width="1.1"/>
<text x="602.8" y="57.70" font-size="14.2">top 20</text>
<rect x="676.5" y="47.80" width="29.0" height="10.0" fill="url(#h3)" stroke="#111" stroke-width="1.1"/>
<text x="716.8" y="57.70" font-size="14.2">top 100</text>
</g>
<g>
<text class="pl" transform="translate(0.5,629) scale(1,1)">b</text>
<rect x="51.80" y="1095.57" width="20.93" height="19.73" fill="url(#h0)" stroke="#111" stroke-width="1.1"/>
<rect x="72.73" y="1035.94" width="20.93" height="79.36" fill="url(#h1)" stroke="#111" stroke-width="1.1"/>
<rect x="93.66" y="920.79" width="20.93" height="194.51" fill="url(#h2)" stroke="#111" stroke-width="1.1"/>
<rect x="114.59" y="736.56" width="20.93" height="378.74" fill="url(#h3)" stroke="#111" stroke-width="1.1"/>
<rect x="177.39" y="1076.40" width="20.93" height="38.90" fill="url(#h1)" stroke="#111" stroke-width="1.1"/>
<rect x="198.32" y="1018.04" width="20.93" height="97.26" fill="url(#h2)" stroke="#111" stroke-width="1.1"/>
<rect x="219.25" y="1018.04" width="20.93" height="97.26" fill="url(#h3)" stroke="#111" stroke-width="1.1"/>
<rect x="302.98" y="1104.57" width="20.93" height="10.73" fill="url(#h2)" stroke="#111" stroke-width="1.1"/>
<rect x="323.91" y="1081.72" width="20.93" height="33.58" fill="url(#h3)" stroke="#111" stroke-width="1.1"/>
<rect x="386.70" y="1073.10" width="20.93" height="42.20" fill="url(#h1)" stroke="#111" stroke-width="1.1"/>
<rect x="407.63" y="901.80" width="20.93" height="213.50" fill="url(#h2)" stroke="#111" stroke-width="1.1"/>
<rect x="428.57" y="795.55" width="20.93" height="319.75" fill="url(#h3)" stroke="#111" stroke-width="1.1"/>
<rect x="491.36" y="1098.88" width="20.93" height="16.42" fill="url(#h1)" stroke="#111" stroke-width="1.1"/>
<rect x="512.29" y="1098.88" width="20.93" height="16.42" fill="url(#h2)" stroke="#111" stroke-width="1.1"/>
<rect x="533.22" y="1065.48" width="20.93" height="49.82" fill="url(#h3)" stroke="#111" stroke-width="1.1"/>
<rect x="575.09" y="1095.30" width="20.93" height="20.00" fill="url(#h0)" stroke="#111" stroke-width="1.1"/>
<rect x="596.02" y="1036.30" width="20.93" height="79.00" fill="url(#h1)" stroke="#111" stroke-width="1.1"/>
<rect x="616.95" y="957.12" width="20.93" height="158.18" fill="url(#h2)" stroke="#111" stroke-width="1.1"/>
<rect x="637.88" y="848.86" width="20.93" height="266.44" fill="url(#h3)" stroke="#111" stroke-width="1.1"/>
<rect x="679.74" y="1108.88" width="20.93" height="6.42" fill="url(#h0)" stroke="#111" stroke-width="1.1"/>
<rect x="700.67" y="1073.10" width="20.93" height="42.20" fill="url(#h1)" stroke="#111" stroke-width="1.1"/>
<rect x="721.61" y="1000.61" width="20.93" height="114.69" fill="url(#h2)" stroke="#111" stroke-width="1.1"/>
<rect x="742.54" y="924.64" width="20.93" height="190.66" fill="url(#h3)" stroke="#111" stroke-width="1.1"/>
<path d="M51.8,1115.30h5.8M784.4,1115.30h-5.8M51.8,1023.55h5.8M784.4,1023.55h-5.8M51.8,931.80h5.8M784.4,931.80h-5.8M51.8,840.05h5.8M784.4,840.05h-5.8M51.8,748.30h5.8M784.4,748.30h-5.8M51.8,656.55h5.8M784.4,656.55h-5.8M62.27,1115.3v-5.8M62.27,644.5v5.8M166.92,1115.3v-5.8M166.92,644.5v5.8M271.58,1115.3v-5.8M271.58,644.5v5.8M376.24,1115.3v-5.8M376.24,644.5v5.8M480.89,1115.3v-5.8M480.89,644.5v5.8M585.55,1115.3v-5.8M585.55,644.5v5.8M690.21,1115.3v-5.8M690.21,644.5v5.8" stroke="#000" stroke-width="0.9" fill="none"/>
<rect x="51.8" y="644.5" width="732.60" height="470.80" fill="none" stroke="#000" stroke-width="1.4"/>
<text x="46.20" y="1120.60" font-size="17.2" text-anchor="end">0</text>
<text x="46.20" y="1028.85" font-size="17.2" text-anchor="end">10</text>
<text x="46.20" y="937.10" font-size="17.2" text-anchor="end">20</text>
<text x="46.20" y="845.35" font-size="17.2" text-anchor="end">30</text>
<text x="46.20" y="753.60" font-size="17.2" text-anchor="end">40</text>
<text x="46.20" y="661.85" font-size="17.2" text-anchor="end">50</text>
<text transform="translate(64.27,1131.80) rotate(30)" font-size="17.2">associated</text>
<text transform="translate(168.92,1131.80) rotate(30)" font-size="17.2">causative</text>
<text transform="translate(273.58,1131.80) rotate(30)" font-size="17.2">may_treat</text>
<text transform="translate(378.24,1131.80) rotate(30)" font-size="17.2">procedure_site</text>
<text transform="translate(482.89,1131.80) rotate(30)" font-size="17.2">ingredient</text>
<text transform="translate(587.55,1131.80) rotate(30)" font-size="17.2">finding_site</text>
<text transform="translate(692.21,1131.80) rotate(30)" font-size="17.2">Average</text>
<text x="418.10" y="1219.80" font-size="17.1" text-anchor="middle">Semantic relation tasks</text>
<text transform="translate(13.8,880.70) rotate(-90)" font-size="17.1" text-anchor="middle">Retrieved terms ratio (%)</text>
<rect x="345.7" y="652.00" width="432.10" height="25.00" fill="#fff" stroke="#000" stroke-width="1.4"/>
<rect x="351.1" y="658.40" width="29.0" height="10.0" fill="url(#h0)" stroke="#111" stroke-width="1.1"/>
<text x="391.6" y="668.30" font-size="14.2">top 1</text>
<rect x="456.7" y="658.40" width="29.0" height="10.0" fill="url(#h1)" stroke="#111" stroke-width="1.1"/>
<text x="496.9" y="668.30" font-size="14.2">top 5</text>
<rect x="561.9" y="658.40" width="29.0" height="10.0" fill="url(#h2)" stroke="#111" stroke-width="1.1"/>
<text x="602.8" y="668.30" font-size="14.2">top 20</text>
<rect x="676.5" y="658.40" width="29.0" height="10.0" fill="url(#h3)" stroke="#111" stroke-width="1.1"/>
<text x="716.8" y="668.30" font-size="14.2">top 100</text>
</g>
<g>
<text class="pl" transform="translate(0.5,1256) scale(1,1.045)">c</text>
<rect x="72.73" y="1725.80" width="20.93" height="7.60" fill="url(#h1)" stroke="#111" stroke-width="1.1"/>
<rect x="93.66" y="1702.87" width="20.93" height="30.53" fill="url(#h2)" stroke="#111" stroke-width="1.1"/>
<rect x="114.59" y="1406.61" width="20.93" height="326.79" fill="url(#h3)" stroke="#111" stroke-width="1.1"/>
<rect x="198.32" y="1703.30" width="20.93" height="30.10" fill="url(#h2)" stroke="#111" stroke-width="1.1"/>
<rect x="219.25" y="1703.30" width="20.93" height="30.10" fill="url(#h3)" stroke="#111" stroke-width="1.1"/>
<rect x="323.91" y="1723.80" width="20.93" height="9.60" fill="url(#h3)" stroke="#111" stroke-width="1.1"/>
<rect x="470.43" y="1707.17" width="20.93" height="26.23" fill="url(#h0)" stroke="#111" stroke-width="1.1"/>
<rect x="491.36" y="1707.17" width="20.93" height="26.23" fill="url(#h1)" stroke="#111" stroke-width="1.1"/>
<rect x="512.29" y="1680.80" width="20.93" height="52.60" fill="url(#h2)" stroke="#111" stroke-width="1.1"/>
<rect x="533.22" y="1627.34" width="20.93" height="106.06" fill="url(#h3)" stroke="#111" stroke-width="1.1"/>
<rect x="616.95" y="1729.82" width="20.93" height="3.58" fill="url(#h2)" stroke="#111" stroke-width="1.1"/>
<rect x="637.88" y="1693.70" width="20.93" height="39.70" fill="url(#h3)" stroke="#111" stroke-width="1.1"/>
<rect x="679.74" y="1729.39" width="20.93" height="4.01" fill="url(#h0)" stroke="#111" stroke-width="1.1"/>
<rect x="700.67" y="1728.10" width="20.93" height="5.30" fill="url(#h1)" stroke="#111" stroke-width="1.1"/>
<rect x="721.61" y="1713.91" width="20.93" height="19.49" fill="url(#h2)" stroke="#111" stroke-width="1.1"/>
<rect x="742.54" y="1647.98" width="20.93" height="85.42" fill="url(#h3)" stroke="#111" stroke-width="1.1"/>
<path d="M51.8,1733.40h5.8M784.4,1733.40h-5.8M51.8,1661.74h5.8M784.4,1661.74h-5.8M51.8,1590.07h5.8M784.4,1590.07h-5.8M51.8,1518.41h5.8M784.4,1518.41h-5.8M51.8,1446.74h5.8M784.4,1446.74h-5.8M51.8,1375.08h5.8M784.4,1375.08h-5.8M51.8,1303.41h5.8M784.4,1303.41h-5.8M62.27,1733.4v-5.8M62.27,1263.2v5.8M166.92,1733.4v-5.8M166.92,1263.2v5.8M271.58,1733.4v-5.8M271.58,1263.2v5.8M376.24,1733.4v-5.8M376.24,1263.2v5.8M480.89,1733.4v-5.8M480.89,1263.2v5.8M585.55,1733.4v-5.8M585.55,1263.2v5.8M690.21,1733.4v-5.8M690.21,1263.2v5.8" stroke="#000" stroke-width="0.9" fill="none"/>
<rect x="51.8" y="1263.2" width="732.60" height="470.20" fill="none" stroke="#000" stroke-width="1.4"/>
<text x="46.20" y="1738.70" font-size="17.2" text-anchor="end">0</text>
<text x="46.20" y="1667.04" font-size="17.2" text-anchor="end">5</text>
<text x="46.20" y="1595.37" font-size="17.2" text-anchor="end">10</text>
<text x="46.20" y="1523.71" font-size="17.2" text-anchor="end">15</text>
<text x="46.20" y="1452.04" font-size="17.2" text-anchor="end">20</text>
<text x="46.20" y="1380.38" font-size="17.2" text-anchor="end">25</text>
<text x="46.20" y="1308.71" font-size="17.2" text-anchor="end">30</text>
<text transform="translate(64.27,1749.90) rotate(30)" font-size="17.2">associated</text>
<text transform="translate(168.92,1749.90) rotate(30)" font-size="17.2">causative</text>
<text transform="translate(273.58,1749.90) rotate(30)" font-size="17.2">may_treat</text>
<text transform="translate(378.24,1749.90) rotate(30)" font-size="17.2">procedure_site</text>
<text transform="translate(482.89,1749.90) rotate(30)" font-size="17.2">ingredient</text>
<text transform="translate(587.55,1749.90) rotate(30)" font-size="17.2">finding_site</text>
<text transform="translate(692.21,1749.90) rotate(30)" font-size="17.2">Average</text>
<text x="418.10" y="1837.90" font-size="17.1" text-anchor="middle">Semantic relation tasks</text>
<text transform="translate(13.8,1499.10) rotate(-90)" font-size="17.1" text-anchor="middle">Retrieved terms ratio (%)</text>
<rect x="345.7" y="1270.40" width="432.10" height="25.00" fill="#fff" stroke="#000" stroke-width="1.4"/>
<rect x="351.1" y="1276.80" width="29.0" height="10.0" fill="url(#h0)" stroke="#111" stroke-width="1.1"/>
<text x="391.6" y="1286.70" font-size="14.2">top 1</text>
<rect x="456.7" y="1276.80" width="29.0" height="10.0" fill="url(#h1)" stroke="#111" stroke-width="1.1"/>
<text x="496.9" y="1286.70" font-size="14.2">top 5</text>
<rect x="561.9" y="1276.80" width="29.0" height="10.0" fill="url(#h2)" stroke="#111" stroke-width="1.1"/>
<text x="602.8" y="1286.70" font-size="14.2">top 20</text>
<rect x="676.5" y="1276.80" width="29.0" height="10.0" fill="url(#h3)" stroke="#111" stroke-width="1.1"/>
<text x="716.8" y="1286.70" font-size="14.2">top 100</text>
</g>
</svg></body></html>
